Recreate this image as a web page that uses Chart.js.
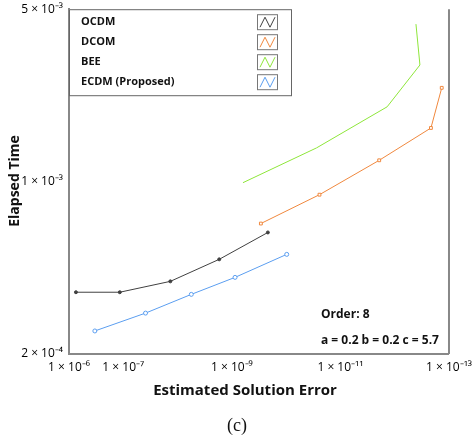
<!DOCTYPE html><html><head><meta charset="utf-8">
<script src="https://cdn.jsdelivr.net/npm/chart.js@4/dist/chart.umd.min.js"></script>
<style>html,body{margin:0;padding:0;background:#fff}#w{width:474px;height:437px}</style></head><body>
<div id="w"><canvas id="c"></canvas></div>
<script>
const seriesNames=["OCDM","DCOM","BEE","ECDM (Proposed)"];
const colors=["#404040","#f0883e","#8ee63a","#5b9ef0"];
const ocdmX=[7.45e-7,1.16e-7,1.36e-8,1.71e-9,2.17e-10];
const ocdmY=[3.56e-4,3.56e-4,3.94e-4,4.84e-4,6.22e-4];
const dcomX=[2.92e-10,2.43e-11,1.93e-12,2.15e-13,1.36e-13];
const dcomY=[6.76e-4,8.85e-4,1.22e-3,1.65e-3,2.40e-3];
const beeX=[6.24e-10,2.75e-11,1.38e-12,3.43e-13,4.06e-13];
const beeY=[9.9e-4,1.37e-3,2.01e-3,2.97e-3,4.35e-3];
const ecdmX=[3.34e-7,3.89e-8,5.58e-9,8.73e-10,9.75e-11];
const ecdmY=[2.48e-4,2.93e-4,3.49e-4,4.09e-4,5.07e-4];
const xTicks=[1e-6,1e-7,1e-9,1e-11,1e-13];
const xTickLabels=["1 × 10⁻⁶","1 × 10⁻⁷","1 × 10⁻⁹","1 × 10⁻¹¹","1 × 10⁻¹³"];
const yTicks=[2e-4,1e-3,5e-3];
const yTickLabels=["2 × 10⁻⁴","1 × 10⁻³","5 × 10⁻³"];
const pts=(xs,ys)=>xs.map((x,i)=>({x:x,y:ys[i]}));
const styles=[{ps:'circle',r:1.5,fill:true},{ps:'rect',r:2,fill:false},{ps:'circle',r:0,fill:false},{ps:'circle',r:2,fill:false}];
const data=[pts(ocdmX,ocdmY),pts(dcomX,dcomY),pts(beeX,beeY),pts(ecdmX,ecdmY)];
const FONT='"Open Sans", sans-serif';
const deco={id:'deco',afterDraw(ch){const c=ch.ctx,a=ch.chartArea;c.save();
 c.strokeStyle='#888';c.lineWidth=2;c.beginPath();c.moveTo(a.right,a.top);c.lineTo(a.right,a.bottom);c.stroke();
 const lx=a.left,ly=a.top,lw=222,lh=86;
 c.fillStyle='#fff';c.fillRect(lx,ly,lw,lh);c.strokeStyle='#666';c.lineWidth=1;c.strokeRect(lx+0.5,ly+0.5,lw,lh);
 c.font='bold 11px '+FONT;c.textBaseline='middle';
 seriesNames.forEach((n,i)=>{const y=ly+13+i*20;c.fillStyle='#111';c.fillText(n,lx+12,y);
  const bx=lx+188,by=y-8;c.strokeStyle='#777';c.strokeRect(bx+0.5,by+0.5,20,15);
  c.strokeStyle=colors[i];c.beginPath();c.moveTo(bx+3,by+13);c.lineTo(bx+8,by+3);c.lineTo(bx+13,by+13);c.lineTo(bx+18,by+3);c.stroke();});
 c.fillStyle='#111';c.font='bold 12px '+FONT;c.textBaseline='alphabetic';
 c.fillText('Order: 8',321,318);c.fillText('a = 0.2 b = 0.2 c = 5.7',321,344);
 c.textAlign='center';c.font='bold 15px '+FONT;c.fillText('Estimated Solution Error',ch.width/2+8,395);
 c.font='18px "Liberation Serif", serif';c.fillText('(c)',237,431);
 c.translate(14,181);c.rotate(-Math.PI/2);c.font='bold 14px '+FONT;c.fillText('Elapsed Time',0,5);
 c.restore();}};
new Chart(document.getElementById('c'),{type:'scatter',
 data:{datasets:data.map((d,i)=>({label:seriesNames[i],data:d,showLine:true,borderColor:colors[i],backgroundColor:styles[i].fill?colors[i]:'#fff',borderWidth:1,pointStyle:styles[i].ps,pointRadius:styles[i].r,pointBorderWidth:1,tension:0}))},
 plugins:[deco],
 options:{responsive:true,maintainAspectRatio:false,animation:false,devicePixelRatio:1,
  layout:{padding:{top:8,right:22,left:0,bottom:0}},
  plugins:{legend:{display:false},tooltip:{enabled:false}},
  scales:{
   x:{type:'logarithmic',reverse:true,min:1e-13,max:1e-6,
    afterBuildTicks:s=>{s.ticks=xTicks.map(v=>({value:v}));},
    afterFit:s=>{s.height=83;},
    grid:{display:false,drawTicks:true,tickLength:4,tickColor:'#888'},border:{color:'#888',width:2},
    ticks:{autoSkip:false,maxRotation:0,color:'#000',font:{family:FONT,size:12},padding:2,callback:(v)=>{const i=xTicks.findIndex(t=>Math.abs(Math.log10(t)-Math.log10(v))<1e-6);return i>=0?xTickLabels[i]:'';}}},
   y:{type:'logarithmic',min:2e-4,max:5e-3,
    afterBuildTicks:s=>{s.ticks=yTicks.map(v=>({value:v}));},
    afterFit:s=>{s.width=69;},
    grid:{display:false,drawTicks:true,tickLength:4,tickColor:'#888'},border:{color:'#888',width:2},
    ticks:{autoSkip:false,color:'#000',font:{family:FONT,size:12},padding:2,callback:(v)=>{const i=yTicks.findIndex(t=>Math.abs(Math.log10(t)-Math.log10(v))<1e-6);return i>=0?yTickLabels[i]:'';}}}
  }}});
</script></body></html>
